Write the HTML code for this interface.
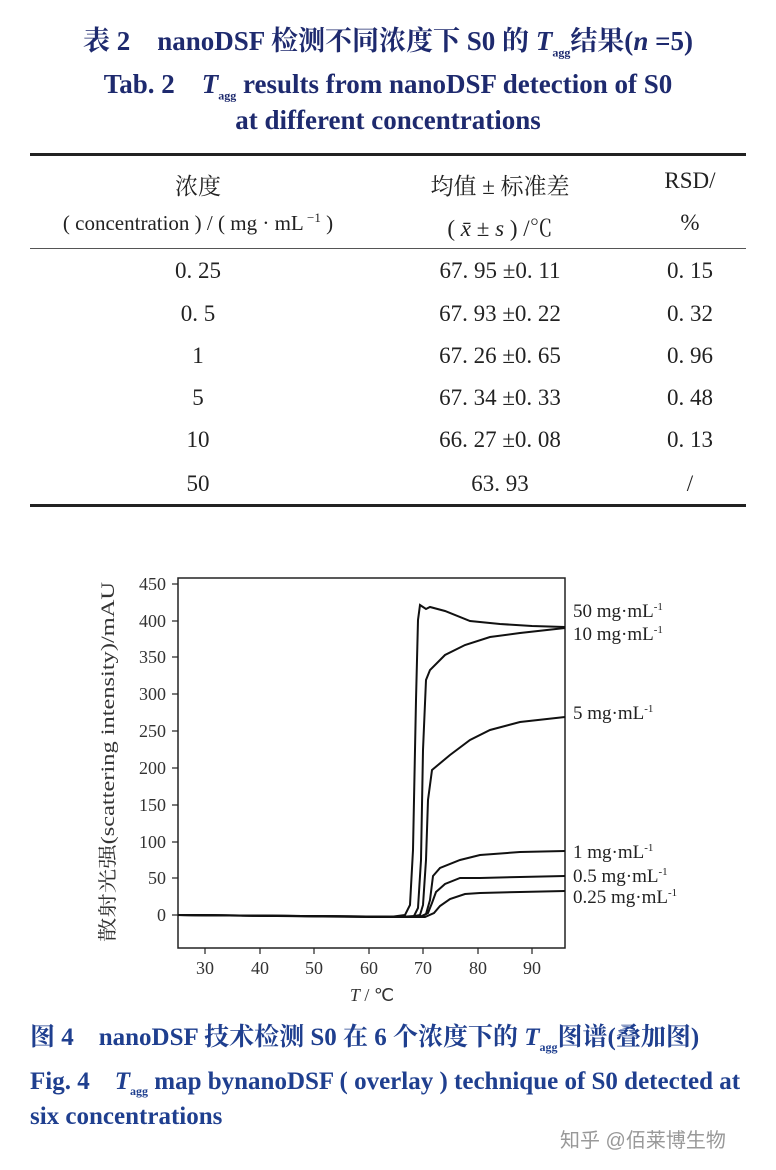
<!DOCTYPE html>
<html><head><meta charset="utf-8"><style>
body{margin:0;width:776px;height:1170px;background:#fff;position:relative;overflow:hidden;font-family:"Liberation Serif","Noto Serif CJK SC",serif;}
.t{position:absolute;white-space:nowrap;}
.title{color:#1e2a6e;font-weight:bold;font-size:27px;left:0;width:776px;text-align:center;}
.cell{position:absolute;font-size:23px;color:#222;text-align:center;transform:translateX(-50%);white-space:nowrap;}
.cap{position:absolute;left:30px;color:#1f3f8f;font-weight:bold;font-size:25px;letter-spacing:0px;white-space:nowrap;}
sub{font-size:12px;}
</style></head><body>
<div class="t title" style="top:19px">表 2　nanoDSF 检测不同浓度下 S0 的 <i>T</i><sub>agg</sub>结果(<i>n</i> =5)</div>
<div class="t title" style="top:62px">Tab. 2　<i>T</i><sub>agg</sub> results from nanoDSF detection of S0</div>
<div class="t title" style="top:105px">at different concentrations</div>
<div style="position:absolute;left:30px;top:153px;width:716px;height:3px;background:#222"></div>
<div style="position:absolute;left:30px;top:248px;width:716px;height:1px;background:#555"></div>
<div style="position:absolute;left:30px;top:504px;width:716px;height:3px;background:#222"></div>
<div class="cell" style="left:198px;top:168px">浓度</div>
<div class="cell" style="left:198px;top:210px;font-size:21px">( concentration ) / ( mg · mL<sup style="font-size:13px"> −1</sup> )</div>
<div class="cell" style="left:500px;top:168px">均值 ± 标准差</div>
<div class="cell" style="left:500px;top:210px">( <i>x̄</i> ± <i>s</i> ) /℃</div>
<div class="cell" style="left:690px;top:168px">RSD/</div>
<div class="cell" style="left:690px;top:210px">%</div>
<div class="cell" style="left:198px;top:258px">0. 25</div><div class="cell" style="left:500px;top:258px">67. 95 ±0. 11</div><div class="cell" style="left:690px;top:258px">0. 15</div>
<div class="cell" style="left:198px;top:301px">0. 5</div><div class="cell" style="left:500px;top:301px">67. 93 ±0. 22</div><div class="cell" style="left:690px;top:301px">0. 32</div>
<div class="cell" style="left:198px;top:343px">1</div><div class="cell" style="left:500px;top:343px">67. 26 ±0. 65</div><div class="cell" style="left:690px;top:343px">0. 96</div>
<div class="cell" style="left:198px;top:385px">5</div><div class="cell" style="left:500px;top:385px">67. 34 ±0. 33</div><div class="cell" style="left:690px;top:385px">0. 48</div>
<div class="cell" style="left:198px;top:427px">10</div><div class="cell" style="left:500px;top:427px">66. 27 ±0. 08</div><div class="cell" style="left:690px;top:427px">0. 13</div>
<div class="cell" style="left:198px;top:471px">50</div><div class="cell" style="left:500px;top:471px">63. 93</div><div class="cell" style="left:690px;top:471px">/</div>

<svg style="position:absolute;left:0;top:0" width="776" height="1170" font-family="Liberation Serif, serif" font-size="18" fill="#333">
<rect x="178" y="578" width="387" height="370" fill="none" stroke="#222" stroke-width="1.5"/>
<g stroke="#222" stroke-width="1.2">
<line x1="172" y1="584" x2="178" y2="584"/><line x1="172" y1="621" x2="178" y2="621"/><line x1="172" y1="657" x2="178" y2="657"/><line x1="172" y1="694" x2="178" y2="694"/><line x1="172" y1="731" x2="178" y2="731"/><line x1="172" y1="768" x2="178" y2="768"/><line x1="172" y1="805" x2="178" y2="805"/><line x1="172" y1="842" x2="178" y2="842"/><line x1="172" y1="878" x2="178" y2="878"/><line x1="172" y1="915" x2="178" y2="915"/>
<line x1="205" y1="948" x2="205" y2="954"/><line x1="260" y1="948" x2="260" y2="954"/><line x1="314" y1="948" x2="314" y2="954"/><line x1="369" y1="948" x2="369" y2="954"/><line x1="423" y1="948" x2="423" y2="954"/><line x1="478" y1="948" x2="478" y2="954"/><line x1="532" y1="948" x2="532" y2="954"/>
</g>
<g text-anchor="end">
<text x="166" y="590">450</text><text x="166" y="627">400</text><text x="166" y="663">350</text><text x="166" y="700">300</text><text x="166" y="737">250</text><text x="166" y="774">200</text><text x="166" y="811">150</text><text x="166" y="848">100</text><text x="166" y="884">50</text><text x="166" y="921">0</text>
</g>
<g text-anchor="middle">
<text x="205" y="974">30</text><text x="260" y="974">40</text><text x="314" y="974">50</text><text x="369" y="974">60</text><text x="423" y="974">70</text><text x="478" y="974">80</text><text x="532" y="974">90</text>
<text x="372" y="1001"><tspan font-style="italic">T</tspan> / ℃</text>
</g>
<text transform="translate(114,762) rotate(-90)" text-anchor="middle" textLength="360" lengthAdjust="spacingAndGlyphs" font-family="Liberation Serif, Noto Serif CJK SC, serif" font-size="19">散射光强(scattering intensity)/mAU</text>
<g fill="none" stroke="#111" stroke-width="2">
<polyline points="178,915 369,917 390,917 405,915 410,905 413,850 416,700 418,620 420,605 426,609 430,607 445,611 470,621 500,624 532,626 565,627"/>
<polyline points="178,915 400,917 414,916 418,908 421,860 423,750 426,680 430,670 445,655 465,645 490,637 520,633 565,628"/>
<polyline points="178,915 410,917 420,915 423,905 426,860 428,800 432,770 450,755 470,740 490,730 520,722 565,717"/>
<polyline points="178,915 420,917 426,914 430,900 433,876 440,868 460,860 480,855 520,852 565,851"/>
<polyline points="178,915 420,917 428,913 432,903 436,892 445,884 460,878 480,878 520,877 565,876"/>
<polyline points="178,915 425,917 434,913 440,906 450,899 465,894 480,893 520,892 565,891"/>
</g>
<g font-size="19" fill="#222">
<text x="573" y="617">50 mg·mL<tspan dy="-7" font-size="11">-1</tspan></text>
<text x="573" y="640">10 mg·mL<tspan dy="-7" font-size="11">-1</tspan></text>
<text x="573" y="719">5 mg·mL<tspan dy="-7" font-size="11">-1</tspan></text>
<text x="573" y="858">1 mg·mL<tspan dy="-7" font-size="11">-1</tspan></text>
<text x="573" y="882">0.5 mg·mL<tspan dy="-7" font-size="11">-1</tspan></text>
<text x="573" y="903">0.25 mg·mL<tspan dy="-7" font-size="11">-1</tspan></text>
</g>
</svg>

<div class="cap" style="top:1017px">图 4　nanoDSF 技术检测 S0 在 6 个浓度下的 <i>T</i><sub>agg</sub>图谱(叠加图)</div>
<div class="cap" style="top:1061px">Fig. 4　<i>T</i><sub>agg</sub> map bynanoDSF ( overlay ) technique of S0 detected at</div>
<div class="cap" style="top:1103px">six concentrations</div>
<div class="t" style="left:560px;top:1124px;font-family:'Liberation Sans','Noto Sans CJK SC',sans-serif;font-size:20px;color:#999">知乎 @佰莱博生物</div>
</body></html>
